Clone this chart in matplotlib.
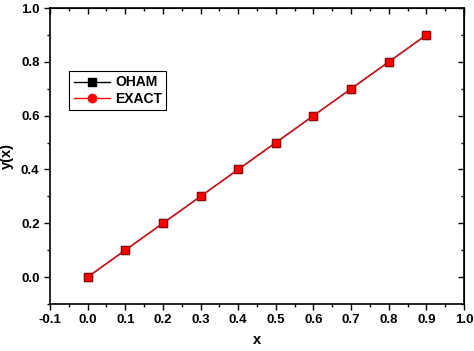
import numpy as np
import matplotlib
matplotlib.use('Agg')
import matplotlib.pyplot as plt
from matplotlib.lines import Line2D
from matplotlib.ticker import MultipleLocator

plt.rcParams['font.family'] = ['Liberation Sans', 'DejaVu Sans']
plt.rcParams['font.weight'] = 'bold'

# data
x = [0.0, 0.1, 0.2, 0.3, 0.4, 0.5, 0.6, 0.7, 0.8, 0.9]
oham = [0.0, 0.1, 0.2, 0.3, 0.4, 0.5, 0.6, 0.7, 0.8, 0.9]
exact = [0.0, 0.1, 0.2, 0.3, 0.4, 0.5, 0.6, 0.7, 0.8, 0.9]

fig = plt.figure(figsize=(4.74, 3.51), dpi=100)
ax = fig.add_axes([0.1055, 0.134, 0.8735, 0.843])

ax.plot(x, oham, color='black', lw=1, marker='s', ms=6, mfc='black', mec='black')
ax.plot(x, exact, color='#e8141a', lw=1, marker='s', ms=6, mfc='#ff0000', mec='#9a0000', mew=0.8)

ax.set_xlim(-0.1, 1.0)
ax.set_ylim(-0.1, 1.0)
ax.xaxis.set_minor_locator(MultipleLocator(0.05))
ax.yaxis.set_minor_locator(MultipleLocator(0.1))
ax.set_xticks(np.arange(-0.1, 1.01, 0.1))
ax.set_xticklabels(['-0.1', '0.0', '0.1', '0.2', '0.3', '0.4', '0.5', '0.6', '0.7', '0.8', '0.9', '1.0'])
ax.set_yticks(np.arange(0.0, 1.01, 0.2))
ax.set_yticklabels(['0.0', '0.2', '0.4', '0.6', '0.8', '1.0'])

ax.tick_params(which='both', direction='out', labelsize=9.5, width=1)
ax.tick_params(which='major', length=4)
ax.tick_params(which='minor', length=2.5)

# mirrored ticks on top and right, pointing inward
tx = ax.secondary_xaxis('top')
tx.set_xticks(ax.get_xticks())
tx.xaxis.set_minor_locator(MultipleLocator(0.05))
tx.tick_params(which='both', direction='in', labeltop=False, width=1)
tx.tick_params(which='major', length=4)
tx.tick_params(which='minor', length=2.5)
ty = ax.secondary_yaxis('right')
ty.set_yticks(ax.get_yticks())
ty.yaxis.set_minor_locator(MultipleLocator(0.1))
ty.tick_params(which='both', direction='in', labelright=False, width=1)
ty.tick_params(which='major', length=4)
ty.tick_params(which='minor', length=2.5)

for s in ax.spines.values():
    s.set_linewidth(1.2)

ax.set_xlabel('x', fontsize=10.5, fontweight='bold', labelpad=5)
ax.set_ylabel('y(x)', fontsize=10.5, fontweight='bold', labelpad=5)

handles = [
    Line2D([], [], color='black', lw=1, marker='s', ms=6, mfc='black', mec='black'),
    Line2D([], [], color='#ff0000', lw=1, marker='o', ms=6, mfc='#ff0000', mec='#ff0000'),
]
leg = ax.legend(handles, ['OHAM', 'EXACT'], loc='upper left', bbox_to_anchor=(0.03, 0.81),
                fancybox=False, edgecolor='black', framealpha=1,
                prop={'weight': 'bold', 'size': 10}, handlelength=2.6,
                borderpad=0.3, labelspacing=0.2, handletextpad=0.4)
leg.get_frame().set_linewidth(0.8)

fig.savefig('out.png', dpi=100)
